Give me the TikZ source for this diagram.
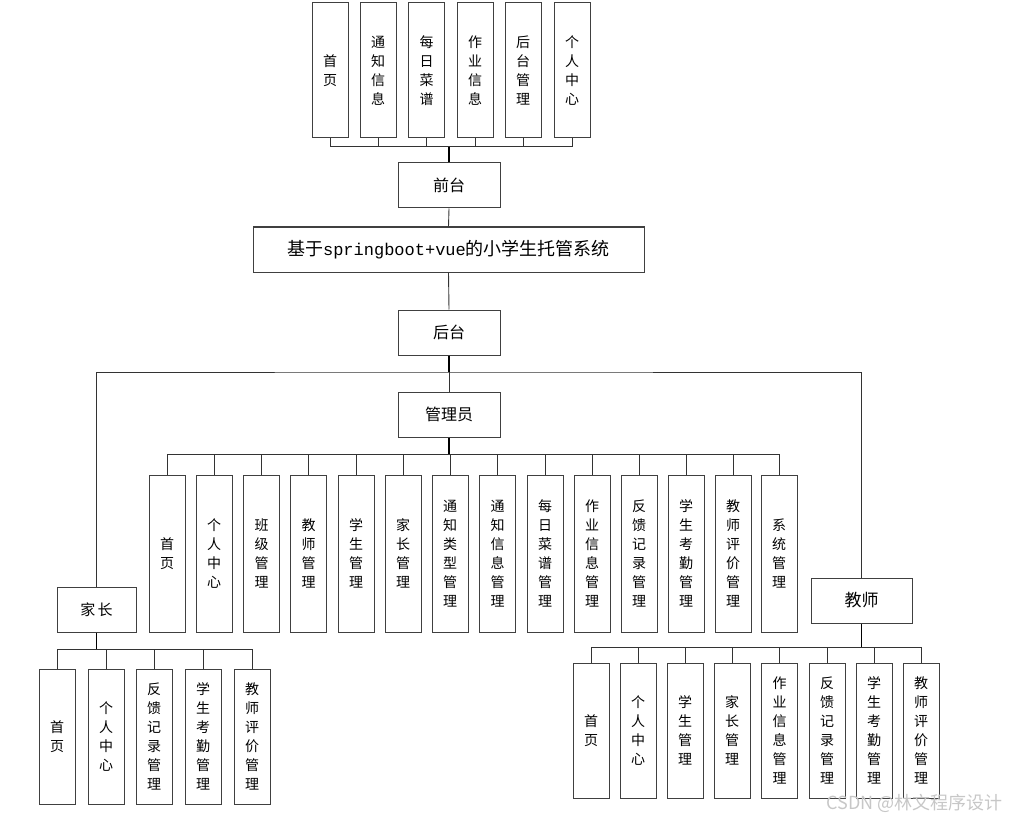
\documentclass[tikz,border=0pt]{standalone}
\usepackage{fontspec}
\newfontfamily\cjk{Noto Sans CJK SC}
\newfontfamily\monof{Liberation Mono}
\begin{document}
\begin{tikzpicture}[x=1pt,y=-1pt,
  box/.style={draw=black!75,line width=1pt,inner sep=0pt,fill=white},
  hbox/.style={box,minimum width=102pt,minimum height=45pt,font=\cjk\fontsize{16}{18}\selectfont},
  vbox/.style={box,minimum width=36pt,align=center,font=\cjk\fontsize{14}{19}\selectfont},
  topv/.style={vbox,minimum height=135pt},
  admv/.style={vbox,minimum height=157pt},
  conn/.style={draw=black!80,line width=0.9pt},
  trunk/.style={draw=black,line width=1.6pt}]
\useasboundingbox (0,0) rectangle (1009,821);
% top level
\node[hbox] (qt) at (449,185.5) {前台};
\node[box,minimum width=391pt,minimum height=45pt,font=\cjk\fontsize{18}{20}\selectfont] (main) at (448.5,249.5) {基于{\monof\fontsize{17}{20}\selectfont springboot+vue}的小学生托管系统};
\node[hbox] (ht) at (449,332.5) {后台};
\node[hbox] (gly) at (449,414.5) {管理员};
\node[box,minimum width=79pt,minimum height=45pt,font=\cjk\fontsize{15}{18}\selectfont] (jz) at (96.5,609.5) {家\,长};
\node[box,minimum width=101pt,minimum height=45pt,font=\cjk\fontsize{17}{18}\selectfont] (js) at (861.5,600.5) {教师};
% front children
\node[topv] (t1) at (330,70.5) {首\\页};
\node[topv] (t2) at (378,70.5) {通\\知\\信\\息};
\node[topv] (t3) at (426.5,70.5) {每\\日\\菜\\谱};
\node[topv] (t4) at (475,70.5) {作\\业\\信\\息};
\node[topv] (t5) at (523,70.5) {后\\台\\管\\理};
\node[topv] (t6) at (572,70.5) {个\\人\\中\\心};
% admin children
\node[admv] (a1) at (167,553.5) {首\\页};
\node[admv] (a2) at (214,553.5) {个\\人\\中\\心};
\node[admv] (a3) at (261.5,553.5) {班\\级\\管\\理};
\node[admv] (a4) at (308.5,553.5) {教\\师\\管\\理};
\node[admv] (a5) at (356,553.5) {学\\生\\管\\理};
\node[admv] (a6) at (403,553.5) {家\\长\\管\\理};
\node[admv] (a7) at (450,553.5) {通\\知\\类\\型\\管\\理};
\node[admv] (a8) at (497.5,553.5) {通\\知\\信\\息\\管\\理};
\node[admv] (a9) at (545,553.5) {每\\日\\菜\\谱\\管\\理};
\node[admv] (a10) at (592,553.5) {作\\业\\信\\息\\管\\理};
\node[admv] (a11) at (639,553.5) {反\\馈\\记\\录\\管\\理};
\node[admv] (a12) at (686,553.5) {学\\生\\考\\勤\\管\\理};
\node[admv] (a13) at (733,553.5) {教\\师\\评\\价\\管\\理};
\node[admv] (a14) at (779,553.5) {系\\统\\管\\理};
% parent children
\node[topv] (p1) at (57,736.5) {首\\页};
\node[topv] (p2) at (106,736.5) {个\\人\\中\\心};
\node[topv] (p3) at (154,736.5) {反\\馈\\记\\录\\管\\理};
\node[topv] (p4) at (203,736.5) {学\\生\\考\\勤\\管\\理};
\node[topv] (p5) at (252,736.5) {教\\师\\评\\价\\管\\理};
% teacher children
\node[topv] (e1) at (591,730.5) {首\\页};
\node[topv] (e2) at (638,730.5) {个\\人\\中\\心};
\node[topv] (e3) at (685,730.5) {学\\生\\管\\理};
\node[topv] (e4) at (732,730.5) {家\\长\\管\\理};
\node[topv] (e5) at (779.5,730.5) {作\\业\\信\\息\\管\\理};
\node[topv] (e6) at (827,730.5) {反\\馈\\记\\录\\管\\理};
\node[topv] (e7) at (874,730.5) {学\\生\\考\\勤\\管\\理};
\node[topv] (e8) at (921,730.5) {教\\师\\评\\价\\管\\理};
% coordinates
\coordinate (tb) at (449,146);
\coordinate (hb) at (449,372);
\coordinate (ab) at (449,454);
\coordinate (pb) at (96.5,649);
\coordinate (eb) at (861.5,647);
% connectors
\draw[trunk] (qt.north) -- (tb);
\foreach \i in {1,...,6} \draw[conn] (t\i.south) |- (tb);
\draw[conn] (qt.south) -- (main.north);
\draw[conn] (main.south) -- (ht.north);
\draw[trunk] (ht.south) -- (hb);
\draw[conn] (hb) -- (gly.north);
\draw[conn] (jz.north) |- (hb) -| (js.north);
\draw[trunk] (gly.south) -- (ab);
\foreach \i in {1,...,14} \draw[conn] (a\i.north) |- (ab);
\draw[trunk] (jz.south) -- (pb);
\foreach \i in {1,...,5} \draw[conn] (p\i.north) |- (pb);
\draw[trunk] (js.south) -- (eb);
\foreach \i in {1,...,8} \draw[conn] (e\i.north) |- (eb);
% watermark
\node[text=black!22,font=\cjk\fontsize{18}{20}\selectfont,anchor=east] (wm) at (1006,803) {CSDN @林文程序设计};
\end{tikzpicture}
\end{document}
